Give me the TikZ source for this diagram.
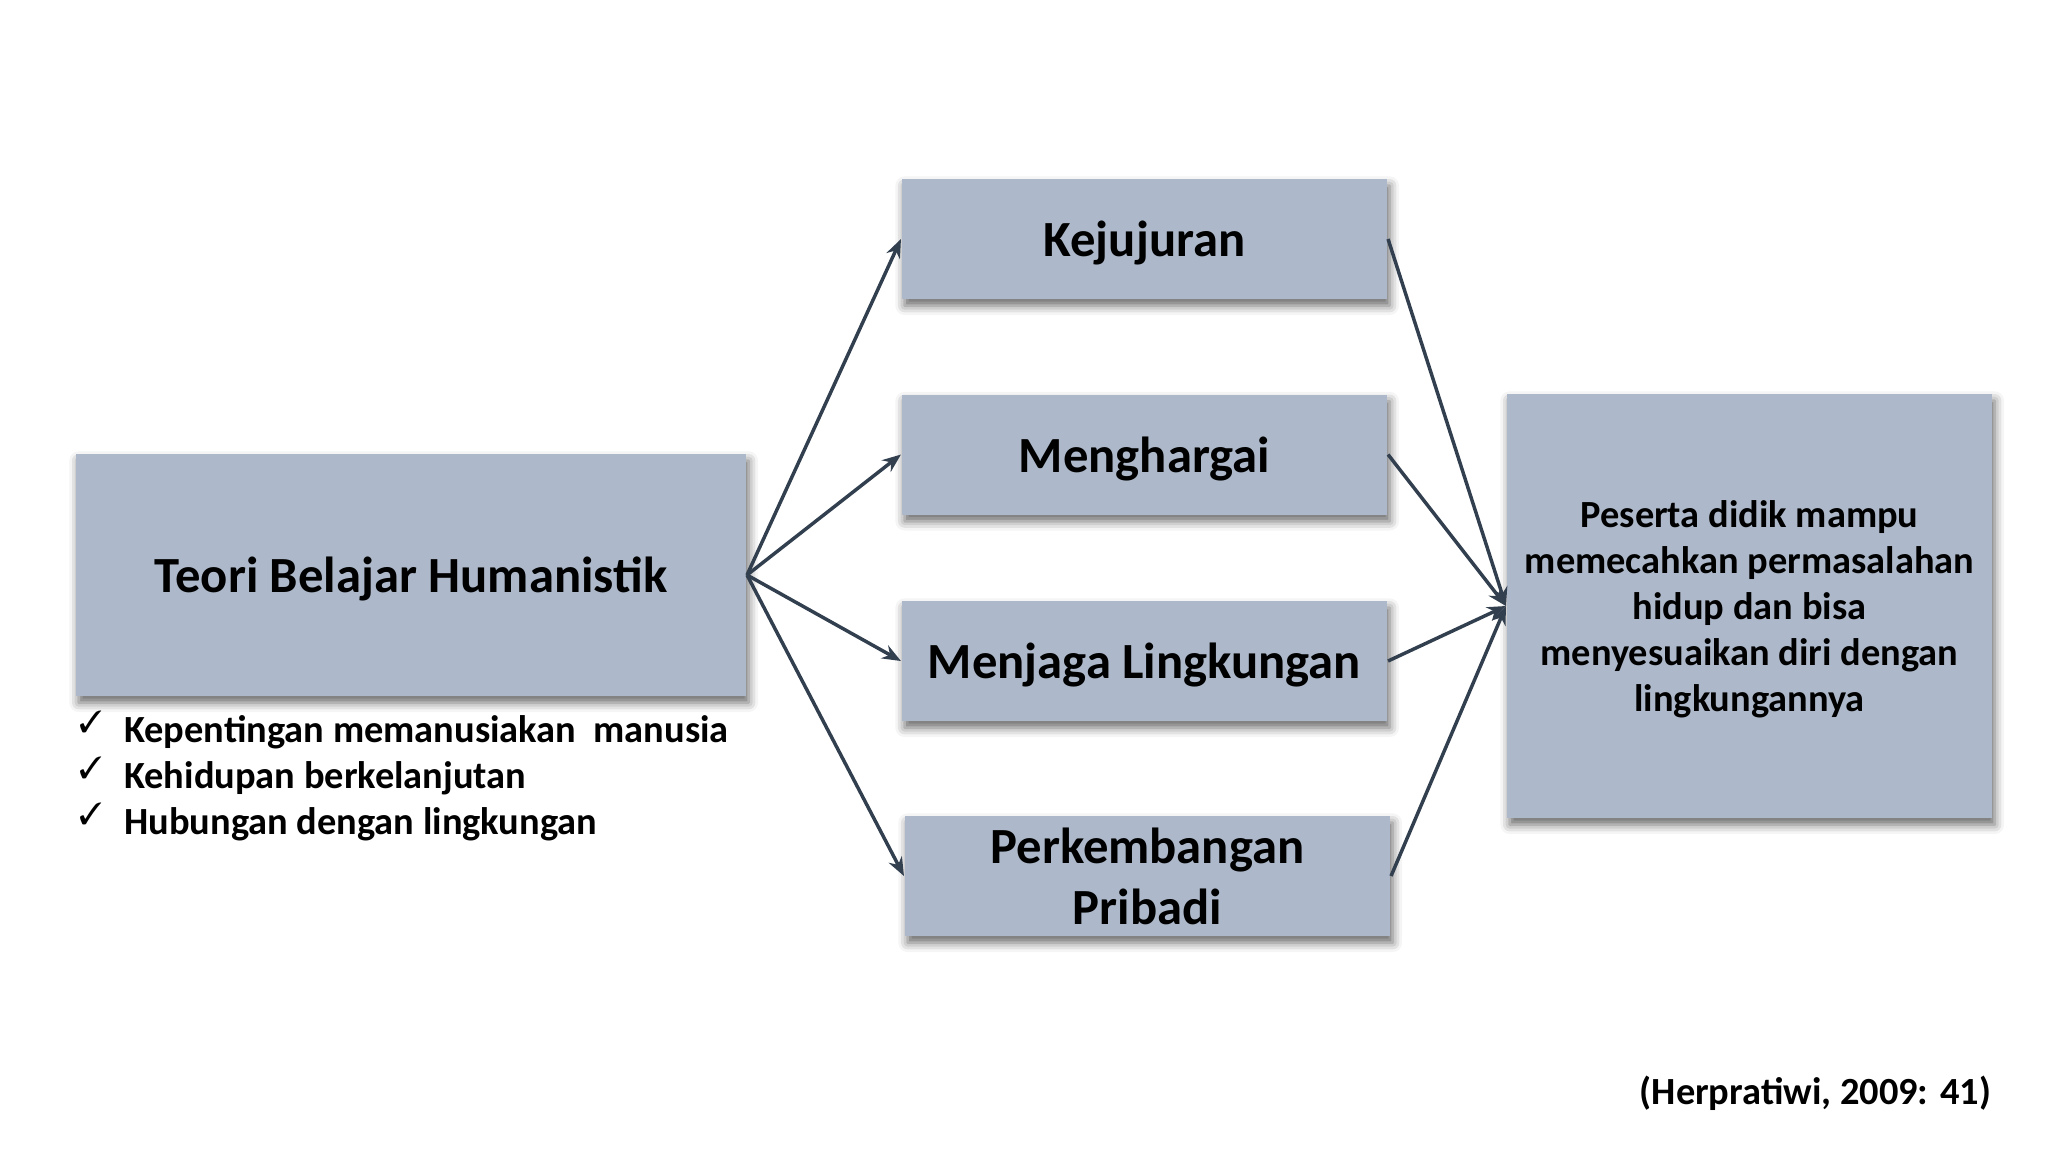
\documentclass[tikz,border=0pt]{standalone}
\usepackage{fontspec}
\usepackage{pifont}
\setmainfont{Carlito}
\usetikzlibrary{arrows.meta,shadows.blur}

\definecolor{kotakfill}{RGB}{173,185,202}
\definecolor{garis}{RGB}{50,63,79}

\tikzset{every picture/.style={line width=0.75pt}}
\tikzset{
  kotak/.style={fill=kotakfill, inner sep=0pt, align=center, text depth=0pt,
    blur shadow={shadow xshift=1pt, shadow yshift=-2.5pt, shadow blur radius=3.5pt, shadow opacity=60}},
  besar/.style={font=\bfseries\fontsize{19}{22.8}\selectfont},
  kecil/.style={font=\bfseries\fontsize{14.4}{17.3}\selectfont},
  panah/.style={draw=garis, line width=1.3pt, -{Stealth[length=7pt,width=5.5pt]}}
}
\newcommand{\cek}{\makebox[17pt][l]{\raisebox{3.5pt}{\fontsize{11.5}{11.5}\selectfont\ding{51}}}}

\begin{document}
\begin{tikzpicture}[x=0.75pt,y=0.75pt,yscale=-1,xscale=1]
    \useasboundingbox (0,0) rectangle (1024,576);

    % Teori
    \node [kotak,besar,minimum width=251.25pt,minimum height=90.75pt] (teori) at (205.5,287.5) {Teori Belajar Humanistik};
    % Nilai
    \node [kotak,besar,minimum width=181.9pt,minimum height=45pt] (jujur) at (572.25,119.5) {Kejujuran};
    \node [kotak,besar,minimum width=181.9pt,minimum height=45pt] (harga) at (572.25,227.25) {Menghargai};
    \node [kotak,besar,minimum width=181.9pt,minimum height=45pt] (jaga) at (572.25,330.5) {Menjaga Lingkungan};
    \node [kotak,besar,minimum width=181.9pt,minimum height=45pt] (pribadi) at (573.75,438) {Perkembangan\\Pribadi};
    % Hasil
    \node [kotak,kecil,minimum width=181.9pt,minimum height=159pt] (hasil) at (874.75,303) {Peserta didik mampu\\memecahkan permasalahan\\hidup dan bisa\\menyesuaikan diri dengan\\lingkungannya};

    % Arrows
    \draw [panah] (teori.east) -- (jujur.west);
    \draw [panah] (teori.east) -- (harga.west);
    \draw [panah] (teori.east) -- (jaga.west);
    \draw [panah] (teori.east) -- (pribadi.west);
    \draw [panah] (jujur.east) -- (hasil.west);
    \draw [panah] (harga.east) -- (hasil.west);
    \draw [panah] (jaga.east) -- (hasil.west);
    \draw [panah] (pribadi.east) -- (hasil.west);

    % Text Node
    \node [kecil,anchor=base west,inner sep=0pt] (poin1) at (39,371) {\cek Kepentingan memanusiakan\ \ manusia};
    \node [kecil,anchor=base west,inner sep=0pt] (poin2) at (39,394) {\cek Kehidupan berkelanjutan};
    \node [kecil,anchor=base west,inner sep=0pt] (poin3) at (39,417) {\cek Hubungan dengan lingkungan};
    % Text Node
    \node [kecil,anchor=base east,inner sep=0pt] (sumber) at (996,552) {(Herpratiwi, 2009: 41)};

\end{tikzpicture}
\end{document}
